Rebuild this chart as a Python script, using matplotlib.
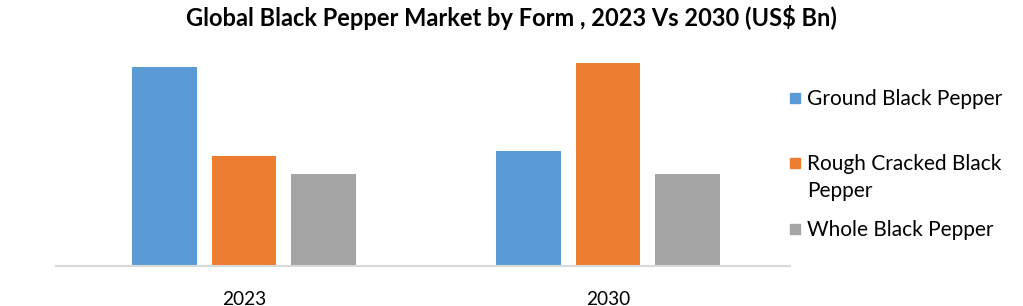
import numpy as np
import matplotlib.pyplot as plt
from matplotlib.patches import Rectangle

# Werte (relative Balkenhöhen, keine Achsenbeschriftung)
years = ['2023', '2030']
series = ['Ground Black Pepper', 'Rough Cracked Black\nPepper', 'Whole Black Pepper']
ground = [199, 115]
rough = [110, 203]
whole = [92, 92]
colors = ['#5B9BD5', '#ED7D31', '#A5A5A5']

plt.rcParams['font.family'] = ['Lato', 'DejaVu Sans']

W, H = 1023, 306
fig = plt.figure(figsize=(W/100, H/100), dpi=100)
ax = fig.add_axes([56/W, 1-266/H, (790-56)/W, 210/H])

x = np.arange(len(years))
w = 0.177
step = 0.218
for i, vals in enumerate([ground, rough, whole]):
    ax.bar(x + (i-1)*step, vals, width=w, color=colors[i], label=series[i])

ax.set_xlim(-188/364, -188/364 + 734/364)
ax.set_ylim(0, 210)
ax.set_xticks(x)
ax.set_xticklabels(years, fontsize=13.7)
ax.tick_params(axis='x', length=0, pad=18)
ax.set_yticks([])
for s in ['top', 'right', 'left']:
    ax.spines[s].set_visible(False)
ax.spines['bottom'].set_color('#D9D9D9')
ax.spines['bottom'].set_linewidth(1.5)

fig.text(0.5, 1-18/H, 'Global Black Pepper Market by Form , 2023 Vs 2030 (US$ Bn)',
         ha='center', va='center', fontsize=17, fontweight='bold')

# Legende von Hand: Quadrat an der ersten Zeile ausgerichtet
leg_y = [98, 163, 229]
for c, lab, yy in zip(colors, series, leg_y):
    fig.add_artist(Rectangle((790/W, 1-(yy+5)/H), 10/W, 10/H, transform=fig.transFigure,
                             color=c))
    fig.text(807/W, 1-(yy-9)/H, lab, ha='left', va='top', fontsize=15,
             linespacing=1.45)

fig.savefig('out.png', dpi=100)
